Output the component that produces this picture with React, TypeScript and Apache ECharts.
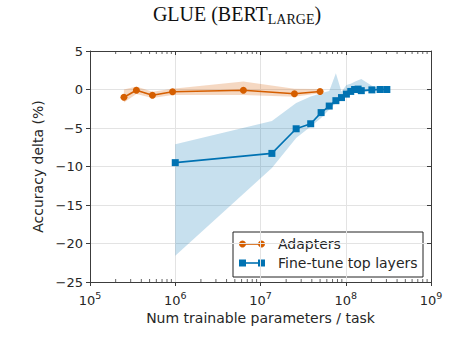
import React, { useEffect, useRef } from "react";
import * as echarts from "echarts";

// ---- data ----
const ADAPTER_PARAMS = [2.5e5, 3.5e5, 5.4e5, 9.3e5, 6.3e6, 2.5e7, 5.0e7];
const ADAPTER_DELTA = [-1.0, -0.1, -0.75, -0.3, -0.1, -0.55, -0.25];
const ADAPTER_UPPER = [0.0, 0.4, -0.3, 0.1, 1.05, 0.1, 0.05];
const ADAPTER_LOWER = [-1.7, -0.6, -1.1, -0.7, -0.7, -0.95, -0.5];

const FT_PARAMS = [
  1.0e6, 1.36e7, 2.62e7, 3.88e7, 5.14e7, 6.4e7, 7.66e7, 8.92e7, 1.018e8,
  1.144e8, 1.27e8, 1.396e8, 1.522e8, 2.026e8, 2.53e8, 3.034e8,
];
const FT_DELTA = [
  -9.5, -8.3, -5.1, -4.45, -3.0, -2.15, -1.45, -1.05, -0.6, -0.25, 0.0, 0.05,
  -0.15, -0.05, 0.0, 0.0,
];
const FT_UPPER = [
  -7.1, -4.1, -1.75, -0.9, -0.5, -0.2, 2.1, -0.3, 0.6, 0.75, 1.0, 1.2, 1.35,
  0.5, 0.15, 0.05,
];
const FT_LOWER = [
  -21.6, -10.2, -6.3, -4.8, -3.7, -2.6, -1.75, -1.1, -0.7, -0.45, -0.3, -0.25,
  -0.35, -0.2, -0.1, -0.05,
];

const SERIES_NAMES = ["Adapters", "Fine-tune top layers"];
const TITLE_MAIN = "GLUE (BERT";
const TITLE_SUB = "LARGE";
const X_NAME = "Num trainable parameters / task";
const Y_NAME = "Accuracy delta (%)";

const X_MIN = 1e5;
const X_MAX = 1e9;
const Y_MIN = -25;
const Y_MAX = 5;
const Y_STEP = 5;
const DECADES = [1e5, 1e6, 1e7, 1e8];
const MINOR_MULT = [2, 3, 4, 5, 6, 7, 8, 9];
const MINOR_TICKS = DECADES.flatMap((d) => MINOR_MULT.map((m) => m * d));

// ---- style ----
const ORANGE = "#D55E00";
const BLUE = "#0072B2";
const ORANGE_FILL = "rgba(213,94,0,0.24)";
const BLUE_FILL = "rgba(0,114,178,0.22)";
const AXIS = "#3c3c3c";
const TEXT = "#262626";
const GRID = "#e3e3e3";
const FONT = "DejaVu Sans";

const G = { left: 90, right: 43, top: 51, bottom: 61 };

function bandSeries(xs: number[], up: number[], lo: number[], fill: string) {
  return {
    type: "custom",
    silent: true,
    z: 1,
    data: [[xs[0], up[0]]],
    renderItem: (_p: any, api: any) => {
      const pts: number[][] = [];
      for (let i = 0; i < xs.length; i++) pts.push(api.coord([xs[i], up[i]]));
      for (let i = xs.length - 1; i >= 0; i--) pts.push(api.coord([xs[i], lo[i]]));
      return { type: "polygon", shape: { points: pts }, style: { fill } };
    },
  };
}

export default function App() {
  const ref = useRef<HTMLDivElement>(null);

  useEffect(() => {
    if (!ref.current) return;
    const chart = echarts.init(ref.current, undefined, { renderer: "svg" });

    const legendX = 233;
    const legendY = 232;
    const row1 = 244;
    const row2 = 263;
    const iconL = 242.5;
    const iconR = 261.5;
    const textX = 278;

    chart.setOption({
      animation: false,
      backgroundColor: "#ffffff",
      title: {
        left: "center",
        top: 2,
        padding: 0,
        text: `{a|${TITLE_MAIN}}{b|${TITLE_SUB}}{a|)}`,
        textStyle: {
          fontWeight: "normal",
          rich: {
            a: {
              fontFamily: "Liberation Serif",
              fontSize: 20,
              fontWeight: "normal",
              color: "#111",
              lineHeight: 24,
            },
            b: {
              fontFamily: "Liberation Serif",
              fontSize: 14,
              fontWeight: "normal",
              color: "#111",
              lineHeight: 12,
              verticalAlign: "bottom",
            },
          },
        },
      },
      grid: { ...G, containLabel: false },
      xAxis: [
        {
          type: "log",
          logBase: 10,
          min: X_MIN,
          max: X_MAX,
          position: "bottom",
          name: X_NAME,
          nameLocation: "middle",
          nameGap: 28,
          nameTextStyle: { fontFamily: FONT, fontSize: 14, color: TEXT },
          axisLine: { show: true, onZero: false, lineStyle: { color: AXIS, width: 1 } },
          axisTick: { show: true, inside: false, length: 4, lineStyle: { color: AXIS } },
          splitLine: { show: true, lineStyle: { color: GRID, width: 1 } },
          axisLabel: {
            margin: 8,
            formatter: (v: number) => `{b|10}{s|${Math.round(Math.log10(v))}}`,
            rich: {
              b: { fontFamily: FONT, fontSize: 13, color: TEXT, lineHeight: 20 },
              s: {
                fontFamily: FONT,
                fontSize: 9.5,
                color: TEXT,
                lineHeight: 10,
                verticalAlign: "top",
              },
            },
          },
        },
        {
          type: "log",
          logBase: 10,
          min: X_MIN,
          max: X_MAX,
          position: "top",
          axisLine: { show: true, onZero: false, lineStyle: { color: AXIS, width: 1 } },
          axisTick: { show: true, inside: true, length: 4, lineStyle: { color: AXIS } },
          axisLabel: { show: false },
          splitLine: { show: false },
        },
      ],
      yAxis: [
        {
          type: "value",
          min: Y_MIN,
          max: Y_MAX,
          interval: Y_STEP,
          position: "left",
          name: Y_NAME,
          nameLocation: "middle",
          nameGap: 43,
          nameTextStyle: { fontFamily: FONT, fontSize: 14, color: TEXT },
          axisLine: { show: true, onZero: false, lineStyle: { color: AXIS, width: 1 } },
          axisTick: { show: true, inside: false, length: 4, lineStyle: { color: AXIS } },
          splitLine: { show: true, lineStyle: { color: GRID, width: 1 } },
          axisLabel: {
            margin: 7,
            fontFamily: FONT,
            fontSize: 13,
            color: TEXT,
            formatter: (v: number) => (v < 0 ? "\u2212" + Math.abs(v) : String(v)),
          },
        },
        {
          type: "value",
          min: Y_MIN,
          max: Y_MAX,
          interval: Y_STEP,
          position: "right",
          axisLine: { show: true, onZero: false, lineStyle: { color: AXIS, width: 1 } },
          axisTick: { show: true, inside: true, length: 4, lineStyle: { color: AXIS } },
          axisLabel: { show: false },
          splitLine: { show: false },
        },
      ],
      series: [
        bandSeries(ADAPTER_PARAMS, ADAPTER_UPPER, ADAPTER_LOWER, ORANGE_FILL),
        bandSeries(FT_PARAMS, FT_UPPER, FT_LOWER, BLUE_FILL),
        {
          type: "custom",
          silent: true,
          z: 3,
          data: MINOR_TICKS.map((v) => [v, Y_MIN]),
          renderItem: (_p: any, api: any) => {
            const v = api.value(0);
            const b = api.coord([v, Y_MIN]);
            const t = api.coord([v, Y_MAX]);
            const st = { stroke: AXIS, lineWidth: 0.8 };
            return {
              type: "group",
              children: [
                { type: "line", shape: { x1: b[0], y1: b[1], x2: b[0], y2: b[1] - 3 }, style: st },
                { type: "line", shape: { x1: t[0], y1: t[1], x2: t[0], y2: t[1] + 3 }, style: st },
              ],
            };
          },
        },
        {
          name: SERIES_NAMES[0],
          type: "line",
          z: 4,
          data: ADAPTER_PARAMS.map((x, i) => [x, ADAPTER_DELTA[i]]),
          symbol: "circle",
          symbolSize: 7,
          lineStyle: { color: ORANGE, width: 1.6 },
          itemStyle: { color: ORANGE, borderWidth: 0 },
        },
        {
          name: SERIES_NAMES[1],
          type: "line",
          z: 4,
          data: FT_PARAMS.map((x, i) => [x, FT_DELTA[i]]),
          symbol: "rect",
          symbolSize: 7,
          lineStyle: { color: BLUE, width: 1.6 },
          itemStyle: { color: BLUE, borderWidth: 0 },
        },
      ],
      graphic: [
        {
          type: "group",
          z: 100,
          children: [
            {
              type: "rect",
              shape: { x: legendX, y: legendY, width: 190, height: 45 },
              style: { fill: "#ffffff", stroke: "#222", lineWidth: 1 },
            },
            {
              type: "line",
              shape: { x1: iconL, y1: row1, x2: iconR, y2: row1 },
              style: { stroke: ORANGE, lineWidth: 1.6 },
            },
            { type: "circle", shape: { cx: iconL, cy: row1, r: 3.5 }, style: { fill: ORANGE } },
            { type: "circle", shape: { cx: iconR, cy: row1, r: 3.5 }, style: { fill: ORANGE } },
            {
              type: "text",
              x: textX,
              y: row1,
              style: {
                text: SERIES_NAMES[0],
                font: `14px '${FONT}'`,
                fill: TEXT,
                verticalAlign: "middle",
              },
            },
            {
              type: "line",
              shape: { x1: iconL, y1: row2, x2: iconR, y2: row2 },
              style: { stroke: BLUE, lineWidth: 1.6 },
            },
            { type: "rect", shape: { x: iconL - 3.5, y: row2 - 3.5, width: 7, height: 7 }, style: { fill: BLUE } },
            { type: "rect", shape: { x: iconR - 3.5, y: row2 - 3.5, width: 7, height: 7 }, style: { fill: BLUE } },
            {
              type: "text",
              x: textX,
              y: row2,
              style: {
                text: SERIES_NAMES[1],
                font: `14px '${FONT}'`,
                fill: TEXT,
                verticalAlign: "middle",
              },
            },
          ],
        },
      ],
    });

    return () => chart.dispose();
  }, []);

  return (
    <div
      ref={ref}
      style={{ position: "fixed", left: 0, top: 0, width: 474, height: 343, background: "#fff" }}
    />
  );
}
